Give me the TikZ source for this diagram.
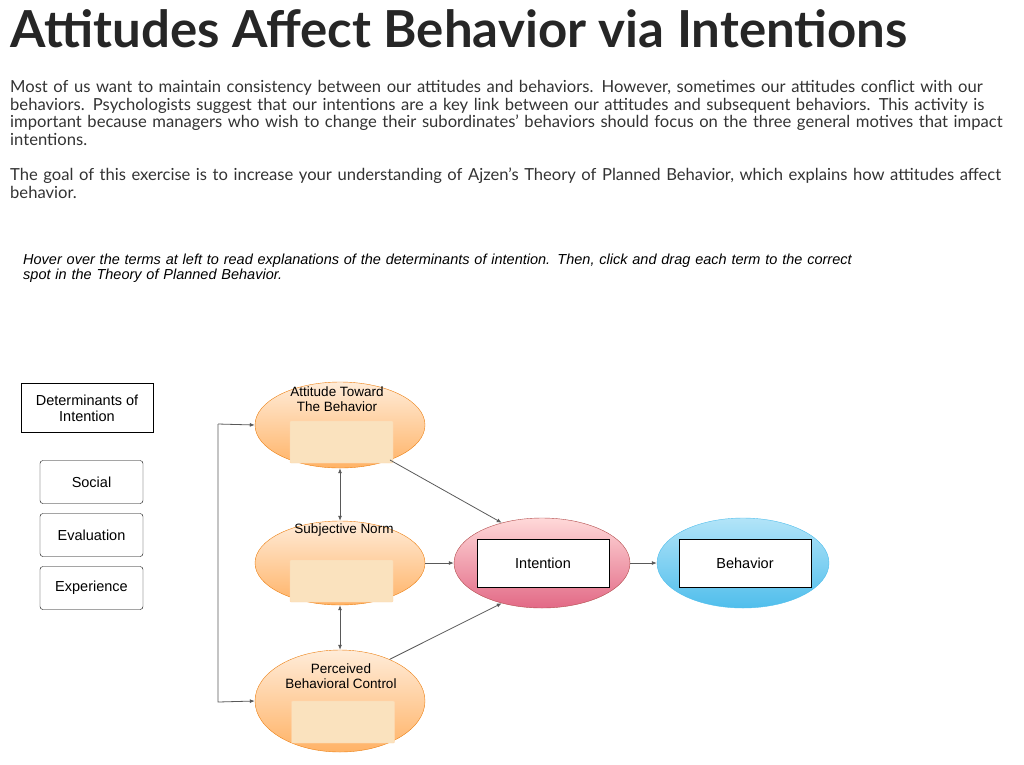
\documentclass[tikz,border=0pt]{standalone}
\usepackage{fontspec}
\setmainfont{Lato}
\newfontfamily\helv{Liberation Sans}
\usetikzlibrary{positioning,arrows.meta,shapes.geometric}
\definecolor{skytop}{RGB}{178,228,248}
\definecolor{skybot}{RGB}{80,190,236}
\definecolor{slotfill}{RGB}{250,226,190}
\tikzset{
  orangeell/.style={ellipse,draw=orange!70!brown,top color=orange!15,bottom color=orange!60,minimum width=170pt,minimum height=86pt},
  slot/.style={draw=orange!30,fill=slotfill,minimum width=103pt,minimum height=42pt,rounded corners=1pt},
  whitebox/.style={draw=black,fill=white,minimum width=132pt,minimum height=48pt,font=\helv\fontsize{14.5}{16}\selectfont},
  termbox/.style={draw=black,rounded corners=3pt,minimum width=103pt,minimum height=43pt,font=\helv\fontsize{14.5}{16}\selectfont},
  lab/.style={align=center,font=\helv\fontsize{13.5}{14.5}\selectfont},
  conn/.style={draw=gray!70!black,thick,-{Latex[length=5pt,width=4pt]}},
}
\begin{document}
\begin{tikzpicture}[x=1pt,y=-1pt]
  \useasboundingbox (0,0) rectangle (1024,764);
  % header text
  \node[anchor=west,font=\bfseries\fontsize{51}{56}\selectfont,text=black!85,inner sep=0pt] (title) at (10,29) {Attitudes Affect Behavior via Intentions};
  \node[anchor=north west,text width=1000pt,align=left,font=\fontsize{16.6}{17.6}\selectfont,text=black!80,inner sep=0pt] (intro) at (10,80)
    {Most of us want to maintain consistency between our attitudes and behaviors. However, sometimes our attitudes conflict with our behaviors. Psychologists suggest that our intentions are a key link between our attitudes and subsequent behaviors. This activity is important because managers who wish to change their subordinates’ behaviors should focus on the three general motives that impact intentions.\par\vspace{17.6pt}
     The goal of this exercise is to increase your understanding of Ajzen’s Theory of Planned Behavior, which explains how attitudes affect behavior.};
  \node[anchor=north west,text width=840pt,align=left,font=\helv\itshape\fontsize{14.5}{15}\selectfont,inner sep=0pt] (hint) at (23,254)
    {Hover over the terms at left to read explanations of the determinants of intention. Then, click and drag each term to the correct spot in the Theory of Planned Behavior.};
  % term boxes
  \node[draw=black,minimum width=132pt,minimum height=49pt,align=center,font=\helv\fontsize{14.5}{16}\selectfont] (det) at (87,408) {Determinants of\\Intention};
  \node[termbox] (social) at (91.5,482) {Social};
  \node[termbox] (eval) at (91.5,535) {Evaluation};
  \node[termbox] (exper) at (91.5,588) {Experience};
  % determinants
  \node[orangeell,minimum height=86pt] (att) at (340,425) {};
  \node[orangeell,minimum height=84pt] (subj) at (340,563) {};
  \node[orangeell,minimum height=102pt] (perc) at (340,701) {};
  \node[lab] (attlab) at (337,399) {Attitude Toward\\The Behavior};
  \node[lab] (subjlab) at (344,530) {Subjective Norm};
  \node[lab] (perclab) at (341,676) {Perceived\\Behavioral Control};
  \node[slot] (attslot) at (341.5,442) {};
  \node[slot] (subjslot) at (341.5,581) {};
  \node[slot] (percslot) at (343,722) {};
  % outcome
  \node[ellipse,draw=red!40!gray,top color=pink!60,bottom color=purple!45!pink,minimum width=176pt,minimum height=90pt] (intent) at (542,563) {};
  \node[ellipse,draw=skybot,top color=skytop,bottom color=skybot,minimum width=172pt,minimum height=90pt] (behav) at (743,563) {};
  \node[whitebox] (intbox) at (543,563) {Intention};
  \node[whitebox] (behbox) at (745,563) {Behavior};
  % connectors
  \coordinate (btop) at (218,424);
  \coordinate (bbot) at (218,702);
  \draw[conn] (btop) -- (att.west);
  \draw[conn] (btop) -- (bbot) -- (perc.west);
  \draw[conn,{Latex[length=5pt,width=4pt]}-{Latex[length=5pt,width=4pt]}] (att.south) -- (subj.north);
  \draw[conn,{Latex[length=5pt,width=4pt]}-{Latex[length=5pt,width=4pt]}] (subj.south) -- (perc.north);
  \draw[conn] (att.-35) -- (intent.135);
  \draw[conn] (perc.40) -- (intent.-135);
  \draw[conn] (subj.east) -- (intent.west);
  \draw[conn] (intent.east) -- (behav.west);
\end{tikzpicture}
\end{document}
